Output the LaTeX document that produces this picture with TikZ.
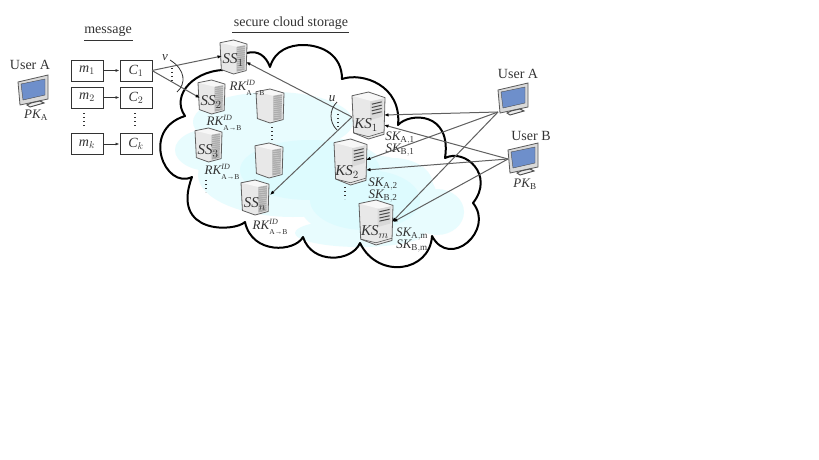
\documentclass[tikz,border=0pt]{standalone}
\usepackage{fontspec}
\setmainfont{Liberation Serif}
\usetikzlibrary{arrows.meta}
\definecolor{ink}{HTML}{333333}
\definecolor{bluecyan}{HTML}{E8FCFE}
\definecolor{blueinner}{HTML}{DDFBFE}
\definecolor{screenblue}{HTML}{6E8FCB}
\tikzset{
  txt/.style={inner sep=0pt,text=ink,font=\fontsize{14}{14}\selectfont},
  srvlab/.style={inner sep=0pt,text=ink,font=\fontsize{15}{15}\selectfont\itshape},
  sklab/.style={inner sep=0pt,text=ink,font=\fontsize{13}{13}\selectfont\itshape,anchor=center},
  msgbox/.style={draw=ink,line width=.9pt,minimum width=32pt,minimum height=21pt,inner sep=0pt,text=ink,font=\fontsize{14}{14}\selectfont\itshape},
  conn/.style={draw=gray!75!black,line width=1pt,-{Latex[length=4.5pt,width=3.5pt,black]}},
  link/.style={draw=ink,line width=.9pt,-{Latex[length=4pt,width=3pt]}},
  vdots/.style={draw=ink,line width=1.1pt,dash pattern=on 1.3pt off 2.7pt},
  anchorbox/.style={inner sep=0pt,minimum width=#1},
  cloudline/.style={draw=black,line width=2pt,line join=round,line cap=round},
  fan/.style={draw=ink,line width=.8pt},
}
\newcommand{\towerbody}{%
  \fill[gray!18] (0,.08)--(.5,0)--(1,.12)--(.97,.9)--(.5,1)--(.05,.87)--cycle;
  \fill[white!94!gray] (0,.08)--(.5,0)--(1,.12)--(.62,.2)--cycle;
  \draw[gray!75!black,line width=.8pt,line join=round] (0,.08)--(.5,0)--(1,.12)--(.97,.9)--(.5,1)--(.05,.87)--cycle;
}
\newcommand{\ssrv}[5]{% name, x, y, w, h
  \node[anchorbox=#4pt,minimum height=#5pt] (#1) at (#2+#4/2,#3+#5/2) {};
  \begin{scope}[shift={(#2,#3)},x=#4pt,y=-#5pt]
    \towerbody
    \fill[gray!65] (.62,.2)--(.93,.16)--(.91,.88)--(.62,.93)--cycle;
    \foreach \k in {.25,.31,...,.86}{\draw[gray!35,line width=.5pt] (.62,\k)--(.92,\k-.03);}
  \end{scope}}
\newcommand{\ksrv}[5]{% name, x, y, w, h
  \node[anchorbox=#4pt,minimum height=#5pt] (#1) at (#2+#4/2,#3+#5/2) {};
  \begin{scope}[shift={(#2,#3)},x=#4pt,y=-#5pt]
    \towerbody
    \fill[gray!30] (.55,.2)--(.95,.14)--(.93,.52)--(.55,.6)--cycle;
    \foreach \k in {.26,.33,.40,.47}{\draw[black!70,line width=1pt] (.6,\k)--(.9,\k-.05);}
    \draw[gray!70!black,line width=.6pt] (.05,.87)--(.5,.95)--(.97,.85);
  \end{scope}}
\newcommand{\monitor}[3]{% name, x, y
  \node[inner sep=0pt,minimum width=30pt,minimum height=32pt] (#1) at (#2+15,#3+16) {};
  \begin{scope}[shift={(#2,#3)}]
    \fill[gray!30,draw=gray!70!black,line width=.8pt] (0,7)--(30,0)--(30,24)--(2,30)--cycle;
    \fill[screenblue,draw=gray!60!black,line width=.4pt] (3,9)--(27,4)--(27,20)--(5,25)--cycle;
    \draw[gray!60!black,line width=.9pt,fill=gray!15] (9,30)--(13,28)--(22,26)--(26,28)--(12,32)--cycle;
  \end{scope}}
\newcommand{\RKID}{\textit{RK}\raisebox{5pt}{\rlap{\fontsize{8}{8}\selectfont\itshape ID}}\raisebox{-4.5pt}{\fontsize{7.5}{8}\selectfont\upshape A→B}}
\begin{document}
\begin{tikzpicture}[x=1pt,y=-1pt]
\useasboundingbox (0,0) rectangle (819,460);
\fill[white] (0,0) rectangle (819,460);

% pale cyan region inside the cloud, built of soft lobes
\fill[bluecyan] (273,122) ellipse [x radius=80,y radius=30];
\fill[bluecyan] (210,150) ellipse [x radius=35,y radius=21];
\fill[bluecyan] (293,175) ellipse [x radius=95,y radius=42];
\fill[bluecyan] (367,198) ellipse [x radius=70,y radius=43];
\fill[bluecyan] (437,212) ellipse [x radius=27,y radius=23];
\fill[bluecyan] (393,185) ellipse [x radius=40,y radius=27];
\fill[bluecyan] (360,233) ellipse [x radius=65,y radius=14];
\fill[blueinner] (310,170) ellipse [x radius=70,y radius=30];
\fill[blueinner] (365,200) ellipse [x radius=55,y radius=30];

% cloud outline
\draw[cloudline] (247,53)
  .. controls (258,50) and (266,56) .. (270,67)
  .. controls (275,50) and (290,45) .. (303,45)
  .. controls (322,45) and (342,55) .. (342,79)
  .. controls (362,72) and (402,85) .. (398,125)
  .. controls (410,112) and (452,112) .. (445,158)
  .. controls (465,148) and (495,175) .. (473,203)
  .. controls (495,230) and (450,270) .. (432,236)
  .. controls (430,272) and (378,280) .. (360,243)
  .. controls (352,262) and (312,265) .. (303,237)
  .. controls (295,252) and (252,255) .. (245,222)
  .. controls (235,232) and (170,235) .. (192,177)
  .. controls (165,190) and (140,130) .. (185,116)
  .. controls (170,95) and (195,68) .. (230,70);

% titles
\node[txt] (msgtitle) at (108,31) {message};
\draw[ink,line width=.9pt] (84,40) -- (133,40);
\node[txt] (cloudtitle) at (291,23) {secure cloud storage};
\draw[ink,line width=.9pt] (232,32) -- (349,32);

% left user
\node[txt] (lefttitle) at (30,65) {User A};
\monitor{ul}{18}{75}
\node[sklab] (pka) at (36,115) {PK$_{\mathrm{A}}$};

% message boxes
\node[msgbox] (m1) at (87,70.5) {m$_1$};
\node[msgbox] (c1) at (136,70.5) {C$_1$};
\node[msgbox] (m2) at (87,97.5) {m$_2$};
\node[msgbox] (c2) at (136,97.5) {C$_2$};
\node[msgbox] (mk) at (87,144) {m$_k$};
\node[msgbox] (ck) at (136,144) {C$_k$};
\draw[link] (m1) -- (c1);
\draw[link] (m2) -- (c2);
\draw[link] (mk) -- (ck);
\draw[vdots] (84,113) -- (84,127);
\draw[vdots] (135,113) -- (135,127);

% servers
\ssrv{ss1}{220}{40}{27}{34}
\ssrv{ss2}{198}{80}{27}{34}
\ssrv{ss3}{195}{128}{27}{34}
\ssrv{blanka}{256}{89}{28}{34}
\ssrv{blankb}{255}{143}{28}{35}
\ssrv{ssn}{241}{180}{28}{35}
\ksrv{ks1}{352}{92}{33}{47}
\ksrv{ks2}{334}{139}{33}{46}
\ksrv{ksm}{359}{200}{34}{45}

\node[srvlab] (ss1l) at (233,60) {SS$_1$};
\node[srvlab] (ss2l) at (211,102) {SS$_2$};
\node[srvlab] (ss3l) at (208,151) {SS$_3$};
\node[srvlab] (ssnl) at (255,204) {SS$_n$};
\node[srvlab] (ks1l) at (366,125) {KS$_1$};
\node[srvlab] (ks2l) at (347,172) {KS$_2$};
\node[srvlab] (ksml) at (375,232) {KS$_m$};

\node[sklab] (rk1) at (247,88) {\RKID};
\node[sklab] (rk2) at (224,123) {\RKID};
\node[sklab] (rk3) at (222,172) {\RKID};
\node[sklab] (rkn) at (270,227) {\RKID};

\draw[vdots] (206,180) -- (206,192);
\draw[vdots] (272,127) -- (272,141);
\draw[vdots] (345,187) -- (345,199);

\node[sklab] (ska1) at (400,138) {SK$_{\mathrm{A,1}}$};
\node[sklab] (skb1) at (400,150) {SK$_{\mathrm{B,1}}$};
\node[sklab] (ska2) at (383,184) {SK$_{\mathrm{A,2}}$};
\node[sklab] (skb2) at (383,196) {SK$_{\mathrm{B,2}}$};
\node[sklab] (skam) at (412,234) {SK$_{\mathrm{A,m}}$};
\node[sklab] (skbm) at (412,246) {SK$_{\mathrm{B,m}}$};

% right users
\node[txt] (uatitle) at (518,74) {User A};
\monitor{ua}{498}{83}
\node[txt] (ubtitle) at (531,136) {User B};
\monitor{ub}{508}{143}
\node[sklab] (pkb) at (525,184) {PK$_{\mathrm{B}}$};

% ports
\coordinate (c1p) at (152,70.5);
\coordinate (ss1in) at (222,56);
\coordinate (ss2in) at (200,98);
\coordinate (ss1back) at (246,62);
\coordinate (ssnin) at (270,195);
\coordinate (ks1w) at (352,117);
\coordinate (uaout) at (498,112);
\coordinate (ubout) at (508,159);
\coordinate (ks1a) at (384,115);
\coordinate (ks1b) at (384,125);
\coordinate (ks2a) at (366,160);
\coordinate (ks2b) at (366,170);
\coordinate (ksma) at (392,222);
\coordinate (ksmb) at (393,222);

% connectors
\draw[conn] (c1p) -- (ss1in);
\draw[conn] (c1p) -- (ss2in);
\draw[conn] (ks1w) -- (ss1back);
\draw[conn] (ks1w) -- (ssnin);
\draw[conn] (uaout) -- (ks1a);
\draw[conn] (uaout) -- (ks2a);
\draw[conn] (uaout) -- (ksma);
\draw[conn] (ubout) -- (ks1b);
\draw[conn] (ubout) -- (ks2b);
\draw[conn] (ubout) -- (ksmb);

% fan marks
\node[sklab] (vlab) at (165,58) {v};
\draw[fan] (170,60) .. controls (186,70) and (186,84) .. (177,92);
\draw[vdots] (172,68) -- (172,82);
\node[sklab] (ulab) at (332,99) {u};
\draw[fan] (337,102) .. controls (329,110) and (329,122) .. (337,130);
\draw[vdots] (338,114) -- (338,128);
\end{tikzpicture}
\end{document}
